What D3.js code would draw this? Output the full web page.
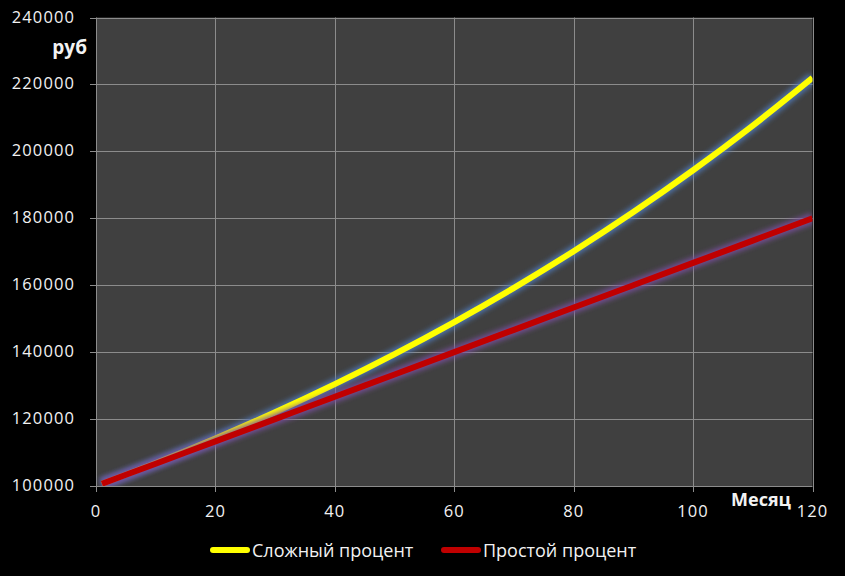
<!DOCTYPE html>
<html><head><meta charset="utf-8">
<script src="https://cdn.jsdelivr.net/npm/d3@7"></script>
<style>
html,body{margin:0;padding:0;background:#000;}
svg{display:block;}
text{font-family:"Open Sans",sans-serif;fill:#f2f2f2;}
</style></head>
<body>
<svg id="chart" width="845" height="576"></svg>
<script>
const months = [1, 10, 20, 30, 40, 50, 60, 70, 80, 90, 100, 110, 120];
const compound = [100667, 106870, 114213, 122059, 130445, 139407, 148985, 159221, 170159, 181853, 194345, 207699, 221964];
const simple = [100667, 106667, 113333, 120000, 126667, 133333, 140000, 146667, 153333, 160000, 166667, 173333, 180000];
const xTicks = [0, 20, 40, 60, 80, 100, 120];
const yTicks = [100000, 120000, 140000, 160000, 180000, 200000, 220000, 240000];
const seriesNames = ["Сложный процент", "Простой процент"];
const seriesColors = ["#ffff00", "#c00000"];
const glowColors = ["#4f79b8", "#7a4fa0"];
const yTitle = "руб";
const xTitle = "Месяц";

const svg = d3.select("#chart");
const L = 96, R = 812.5, T = 17.5, B = 486;
const x = d3.scaleLinear().domain([0, 120]).range([L, R]);
const y = d3.scaleLinear().domain([100000, 240000]).range([B, T]);

const defs = svg.append("defs");
defs.append("clipPath").attr("id", "clip").append("rect")
  .attr("x", L).attr("y", T).attr("width", R - L).attr("height", B - T);
const f = defs.append("filter").attr("id", "glow").attr("x", "-10%").attr("y", "-10%").attr("width", "120%").attr("height", "120%");
f.append("feGaussianBlur").attr("stdDeviation", 2.5);

svg.append("rect").attr("x", L).attr("y", T).attr("width", R - L).attr("height", B - T).attr("fill", "#404040");

// grid
const gridColor = "#8c8c8c";
svg.append("g").selectAll("line").data(yTicks).join("line")
  .attr("x1", L - 6).attr("x2", R).attr("y1", d => Math.round(y(d)) + 0.5).attr("y2", d => Math.round(y(d)) + 0.5)
  .attr("stroke", gridColor).attr("stroke-width", 1);
svg.append("g").selectAll("line").data(xTicks).join("line")
  .attr("y1", T).attr("y2", B + 6).attr("x1", d => Math.round(x(d)) + 0.5).attr("x2", d => Math.round(x(d)) + 0.5)
  .attr("stroke", gridColor).attr("stroke-width", 1);

// tick labels
svg.append("g").selectAll("text").data(yTicks).join("text")
  .attr("x", 75).attr("y", d => y(d) + 5).attr("text-anchor", "end")
  .style("font-size", "16.5px").style("letter-spacing", "1.1px").text(d => d);
svg.append("g").selectAll("text").data(xTicks).join("text")
  .attr("x", d => x(d)).attr("y", 517).attr("text-anchor", "middle")
  .style("font-size", "16.5px").style("letter-spacing", "1.1px").text(d => d);

svg.append("text").attr("x", 87).attr("y", 54).attr("text-anchor", "end")
  .style("font-size", "19px").style("font-weight", "bold").text(yTitle);
svg.append("text").attr("x", 791).attr("y", 506).attr("text-anchor", "end")
  .style("font-size", "18px").style("font-weight", "bold").text(xTitle);

// lines
const line = d3.line().x((d, i) => x(months[i])).y(d => y(d)).curve(d3.curveMonotoneX);
const allSeries = [compound, simple];
const plot = svg.append("g").attr("clip-path", "url(#clip)");
allSeries.forEach((s, k) => {
  plot.append("path").datum(s).attr("d", line).attr("fill", "none")
    .attr("stroke", glowColors[k]).attr("stroke-width", 11).attr("stroke-opacity", 0.85)
    .attr("filter", "url(#glow)");
  plot.append("path").datum(s).attr("d", line).attr("fill", "none")
    .attr("stroke", seriesColors[k]).attr("stroke-width", 6);
});

// legend
const legendX = [211, 442];
const lg = svg.append("g");
seriesNames.forEach((n, k) => {
  lg.append("line").attr("x1", legendX[k] + 2).attr("x2", legendX[k] + 36).attr("y1", 550).attr("y2", 550)
    .attr("stroke", seriesColors[k]).attr("stroke-width", 6).attr("stroke-linecap", "round");
  lg.append("text").attr("x", legendX[k] + 41).attr("y", 557).style("font-size", "18px").text(n);
});
</script>
</body></html>
